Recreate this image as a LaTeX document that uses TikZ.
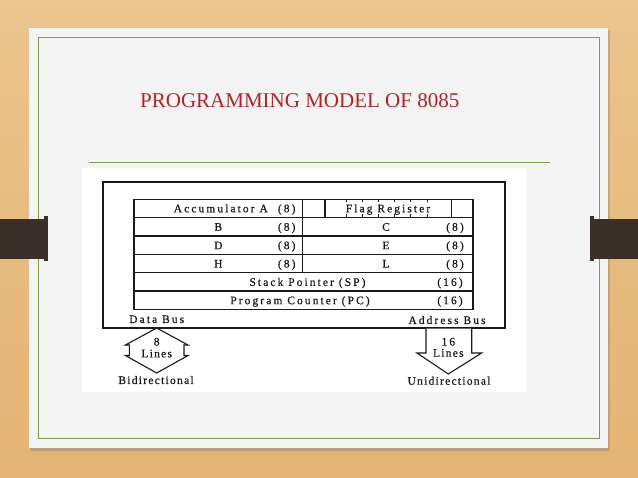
\documentclass[tikz,border=0pt]{standalone}
\usepackage{fontspec}
\setmainfont{Liberation Serif}
\newfontfamily\diagfont[LetterSpace=18, FakeBold=0.6]{Liberation Serif}
\newfontfamily\diagfontn[LetterSpace=11, FakeBold=0.6]{Liberation Serif}
\definecolor{woodtop}{HTML}{EBC48E}
\definecolor{woodbot}{HTML}{E3B473}
\definecolor{slidec}{HTML}{F3F3F3}
\definecolor{framegreen}{HTML}{7F9A48}
\definecolor{tabbrown}{HTML}{3A3029}
\definecolor{titlered}{HTML}{B0232A}
\definecolor{inkc}{HTML}{1A1A1A}
\tikzset{
  lbl/.style={font=\diagfont\fontsize{11.5}{13}\selectfont, inner sep=0pt, text=inkc, anchor=base},
  lbln/.style={lbl, font=\diagfontn\fontsize{11.5}{13}\selectfont},
  tline/.style={draw=inkc, line width=1.1pt},
  obox/.style={draw=inkc, line width=1.8pt},
  barrow/.style={draw=inkc, line width=1.1pt, fill=white, line join=miter},
}
\begin{document}
\begin{tikzpicture}[x=1pt,y=-1pt]
\useasboundingbox (0,0) rectangle (638,478);
% wood background
\shade[top color=woodtop, bottom color=woodbot] (0,0) rectangle (638,478);
% slide shadow and slide
\fill[black!45, opacity=0.45] (30,30) rectangle (610,451.5);
\fill[slidec] (29,28) rectangle (608,448);
\draw[framegreen, line width=1pt] (38,38) rectangle (599,439);
% tabs
\fill[tabbrown] (0,219) rectangle (45,259);
\fill[tabbrown] (44,216.5) rectangle (48,261.5);
\fill[tabbrown] (593,219) rectangle (638,259);
\fill[tabbrown] (590,216.5) rectangle (594,261.5);
% title and rule
\node[font=\fontsize{21}{24}\selectfont, text=titlered, inner sep=0pt, anchor=base west] (title) at (140,107.5) {PROGRAMMING MODEL OF 8085};
\draw[framegreen, line width=0.8pt] (89,162) -- (550,162);
% image area
\fill[white] (82,168) rectangle (527,392);
% outer box
\draw[obox] (102.7,181.7) rectangle (505,327.7);
% register table
\draw[tline] (134,199.3) rectangle (473,309.3);
\foreach \yy in {217.3,236,254.3,272.7,291} \draw[tline] (134,\yy) -- (473,\yy);
\draw[tline] (302.7,199.3) -- (302.7,272.7);
\draw[tline] (325,199.3) -- (325,217.3);
\draw[tline] (451.7,199.3) -- (451.7,217.3);
\foreach \xx in {346,362,378,394,410,427} {
  \draw[inkc, line width=0.9pt] (\xx,199.3) -- (\xx,202.5);
  \draw[inkc, line width=0.9pt] (\xx,217.3) -- (\xx,214.1);
}
% labels
\node[lbl] (acc) at (220.8,212.3) {Accumulator A};
\node[lbl] (acc8) at (286.7,212.3) {(8)};
\node[lbl] (flag) at (388,212.3) {Flag Register};
\node[lbl] (b) at (218.3,230.7) {B};
\node[lbl] (b8) at (286.7,230.7) {(8)};
\node[lbl] (c) at (386,230.7) {C};
\node[lbl] (c8) at (455,230.7) {(8)};
\node[lbl] (d) at (218.3,249.2) {D};
\node[lbl] (d8) at (286.7,249.2) {(8)};
\node[lbl] (e) at (386,249.2) {E};
\node[lbl] (e8) at (455,249.2) {(8)};
\node[lbl] (h) at (218.3,267.5) {H};
\node[lbl] (h8) at (286.7,267.5) {(8)};
\node[lbl] (l) at (386,267.5) {L};
\node[lbl] (l8) at (455,267.5) {(8)};
\node[lbl] (sp) at (307.5,285.9) {Stack Pointer (SP)};
\node[lbl] (sp16) at (450,285.9) {(16)};
\node[lbl] (pc) at (300,304.2) {Program Counter (PC)};
\node[lbl] (pc16) at (450,304.2) {(16)};
\node[lbl] (dbus) at (156.7,323) {Data Bus};
\node[lbl] (abus) at (447,324) {Address Bus};
% bidirectional arrow
\draw[barrow] (156.7,328) -- (188,345) -- (184,345) -- (184,355.5) -- (188,355.5) -- (156.7,373) -- (125.4,355.5) -- (129.4,355.5) -- (129.4,345) -- (125.4,345) -- cycle;
\node[lbl] (n8) at (156.7,345.5) {8};
\node[lbln] (lines1) at (156.7,357.3) {Lines};
\node[lbln] (bidir) at (156,384) {Bidirectional};
% unidirectional arrow
\draw[barrow] (426,328.6) -- (426,353) -- (417,353) -- (448.3,374) -- (481.7,353) -- (471.7,353) -- (471.7,328.6);
\node[lbl] (n16) at (448.3,345.5) {16};
\node[lbln] (lines2) at (448.3,356.7) {Lines};
\node[lbln] (unidir) at (449,384.7) {Unidirectional};
\end{tikzpicture}
\end{document}
